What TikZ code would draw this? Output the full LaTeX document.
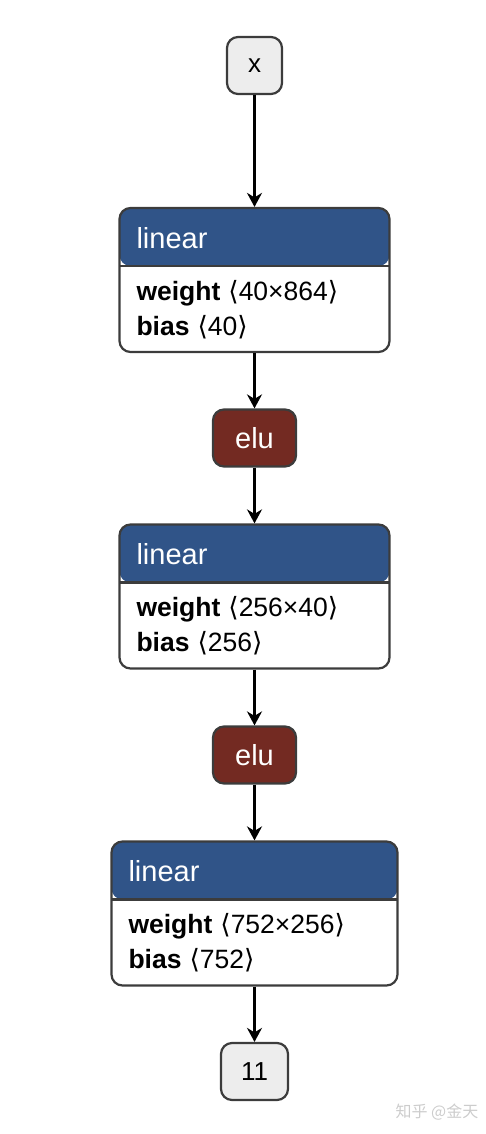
\documentclass[tikz,border=0pt]{standalone}
\usepackage{fontspec}
\setmainfont{Liberation Sans}
\newfontfamily\dejavu{DejaVu Sans}
\newfontfamily\cjk{Noto Sans CJK SC}
\usetikzlibrary{arrows.meta}
\definecolor{glava}{RGB}{48,84,136}
\definecolor{aktivna}{RGB}{115,42,34}
\definecolor{okvir}{RGB}{60,60,60}
\definecolor{siva}{RGB}{237,237,237}
\newcommand{\oblika}[1]{{\dejavu ⟨}#1{\dejavu ⟩}}
\newcommand{\sloj}[3]{{\fontsize{29}{35}\selectfont\color{white}\rule{0pt}{40pt}linear}\\[17pt]
    \textbf{weight}\hspace{8pt}\oblika{#1×#2}\\ \textbf{bias}\hspace{8pt}\oblika{#3}\rule[-17pt]{0pt}{1pt}}
\tikzset{
	graf/.style={x=1pt, y=-1pt, font=\fontsize{26.5}{35}\selectfont,
	             >={Stealth[length=14pt,width=15pt,inset=4.5pt]}},
	vhod/.style={draw=okvir, line width=2.2pt, rounded corners=11pt, fill=siva,
	             minimum height=57pt, inner sep=0pt, font=\fontsize{26}{30}\selectfont},
	aktiv/.style={draw=okvir, line width=2.2pt, rounded corners=11pt, fill=aktivna,
	              text=white, minimum width=83pt, minimum height=57pt, inner sep=0pt,
	              font=\fontsize{29}{30}\selectfont},
	blok/.style={draw=okvir, line width=2.2pt, rounded corners=11pt, fill=white,
	             align=left, inner xsep=17pt, inner ysep=0pt,
	             path picture={
	               \fill[glava] (path picture bounding box.north west) rectangle
	                   ([yshift=-58pt]path picture bounding box.north east);
	               \draw[okvir, line width=2.2pt]
	                   ([yshift=-58pt]path picture bounding box.north west) --
	                   ([yshift=-58pt]path picture bounding box.north east);}},
	tok/.style={->, line width=2.2pt},
	znak/.style={text=gray!40, font=\cjk\fontsize{16}{18}\selectfont},
}

\begin{document}
\begin{tikzpicture}[graf]
\useasboundingbox (0,0) rectangle (486,1134);

\node[vhod, minimum width=55pt] (x) at (254.5,65.5) {x};
\node[blok, text width=236pt] (lin1) at (254.5,280) {\sloj{40}{864}{40}};
\node[aktiv] (elu1) at (254.5,438) {elu};
\node[blok, text width=236pt] (lin2) at (254.5,596.5) {\sloj{256}{40}{256}};
\node[aktiv] (elu2) at (254.5,755) {elu};
\node[blok, text width=252pt] (lin3) at (254.5,913.5) {\sloj{752}{256}{752}};
\node[vhod, minimum width=67pt] (izhod) at (254.5,1071.5) {11};

\node[znak] (oznaka) at (437,1112) {知乎 @金天};

\draw[tok] (x) -- (lin1);
\draw[tok] (lin1) -- (elu1);
\draw[tok] (elu1) -- (lin2);
\draw[tok] (lin2) -- (elu2);
\draw[tok] (elu2) -- (lin3);
\draw[tok] (lin3) -- (izhod);

\end{tikzpicture}
\end{document}
